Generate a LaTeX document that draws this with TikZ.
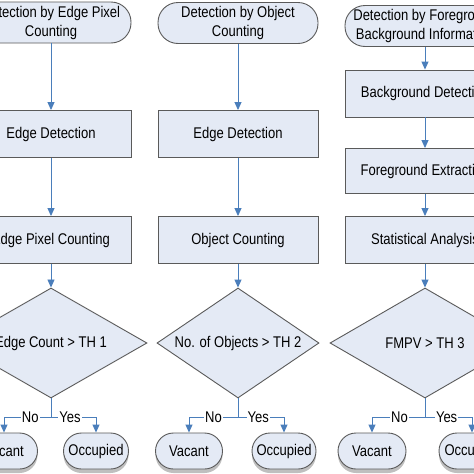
\documentclass[tikz,border=0pt]{standalone}
\usepackage{fontspec}
\setmainfont{Liberation Sans}[FakeStretch=0.84]
\usetikzlibrary{shapes.geometric,arrows.meta,shadows}
\definecolor{fillc}{HTML}{E4EAF5}
\definecolor{linec}{HTML}{5A5A5A}
\definecolor{arrc}{HTML}{4A7EBB}
\tikzset{
  base/.style={draw=linec, fill=fillc, line width=0.9pt, inner sep=0pt,
    font=\fontsize{15.5}{19}\selectfont, align=center},
  term/.style={base, rounded corners=20pt, minimum width=160pt, minimum height=41pt},
  proc/.style={base, minimum width=160pt, minimum height=47pt},
  dec/.style={base, diamond, aspect=1.6, minimum height=110pt},
  endt/.style={base, rounded corners=18pt, minimum height=36pt,
    drop shadow={shadow xshift=0pt, shadow yshift=-4pt, fill=gray, opacity=0.5}},
  flow/.style={draw=arrc, line width=0.9pt, -{Triangle[width=7pt,length=8pt]}},
  link/.style={draw=arrc, line width=0.9pt},
  lbl/.style={fill=white, inner sep=1pt, font=\fontsize{15.5}{19}\selectfont},
}
\begin{document}
\begin{tikzpicture}[x=1pt,y=-1pt]
\useasboundingbox (0,0) rectangle (474,474);
\fill[white] (0,0) rectangle (474,474);
\clip (0,0) rectangle (474,474);

% column 1
\node[term] (t1) at (51,22.5) {Detection by Edge Pixel\\Counting};
\node[proc] (e1) at (51,134) {Edge Detection};
\node[proc] (p1) at (51,240) {Edge Pixel Counting};
\node[dec, minimum width=192pt] (d1) at (51,343) {Edge Count > TH 1};
\coordinate (j1) at (51,417);
\node[endt, minimum width=67pt] (v1) at (4,451) {Vacant};
\node[endt, minimum width=65pt] (o1) at (96,451) {Occupied};

% column 2
\node[term] (t2) at (238,23) {Detection by Object\\Counting};
\node[proc] (e2) at (238,134) {Edge Detection};
\node[proc] (p2) at (238,240) {Object Counting};
\node[dec, minimum width=162pt] (d2) at (238,343) {No. of Objects > TH 2};
\coordinate (j2) at (238,417);
\node[endt, minimum width=67pt] (v2) at (189,451) {Vacant};
\node[endt, minimum width=64pt] (o2) at (284,451) {Occupied};

% column 3
\node[term] (t3) at (425,26) {Detection by Foreground\\Background Information};
\node[proc] (b3) at (425,93.5) {Background Detection};
\node[proc, minimum height=45pt] (f3) at (425,171) {Foreground Extraction};
\node[proc] (s3) at (425,240) {Statistical Analysis};
\node[dec, minimum width=190pt] (d3) at (425,343) {FMPV > TH 3};
\coordinate (j3) at (425,417);
\node[endt, minimum width=68pt] (v3) at (372,451) {Vacant};
\node[endt, minimum width=66pt] (o3) at (472,451) {Occupied};

% connectors
\draw[flow] (t1) -- (e1);
\draw[flow] (e1) -- (p1);
\draw[flow] (p1) -- (d1);
\draw[link] (d1.south) -- (j1);
\draw[flow] (j1) -| node[lbl, pos=0.22] {No} (v1.north);
\draw[flow] (j1) -| node[lbl, pos=0.21] {Yes} (o1.north);

\draw[flow] (t2) -- (e2);
\draw[flow] (e2) -- (p2);
\draw[flow] (p2) -- (d2);
\draw[link] (d2.south) -- (j2);
\draw[flow] (j2) -| node[lbl, pos=0.25] {No} (v2.north);
\draw[flow] (j2) -| node[lbl, pos=0.22] {Yes} (o2.north);

\draw[flow] (t3) -- (b3);
\draw[flow] (b3) -- (f3);
\draw[flow] (f3) -- (s3);
\draw[flow] (s3) -- (d3);
\draw[link] (d3.south) -- (j3);
\draw[flow] (j3) -| node[lbl, pos=0.24] {No} (v3.north);
\draw[flow] (j3) -| node[lbl, pos=0.23] {Yes} (o3.north);
\end{tikzpicture}
\end{document}
